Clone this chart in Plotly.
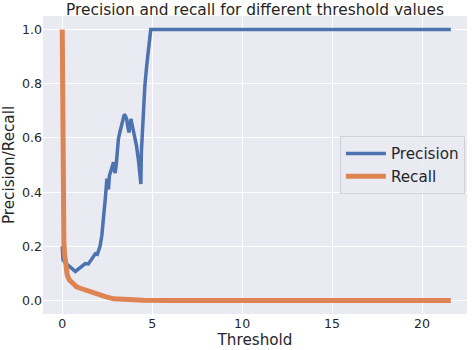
import plotly.graph_objects as go

# Precision curve (threshold, precision)
prec_t = [0.0, 0.02, 0.04, 0.15, 0.3, 0.5, 0.73, 0.9, 1.1, 1.28, 1.45, 1.56, 1.7, 1.84, 1.95, 2.1, 2.2, 2.3,
          2.4, 2.48, 2.52, 2.57, 2.62, 2.66, 2.75, 2.85, 2.9, 2.94, 3.0, 3.03, 3.08, 3.12, 3.2, 3.3, 3.36,
          3.45, 3.52, 3.58, 3.65, 3.71, 3.77, 3.82, 3.88, 3.95, 4.05, 4.13, 4.25, 4.37, 4.4, 4.5, 4.59,
          4.7, 4.81, 4.92, 5.0, 10.0, 15.0, 21.6]
prec_v = [0.20, 0.16, 0.15, 0.14, 0.13, 0.12, 0.107, 0.115, 0.125, 0.136, 0.135, 0.145, 0.16, 0.172, 0.17,
          0.20, 0.24, 0.30, 0.38, 0.45, 0.43, 0.41, 0.46, 0.47, 0.49, 0.51, 0.48, 0.47, 0.50, 0.53, 0.56,
          0.595, 0.62, 0.645, 0.66, 0.687, 0.68, 0.67, 0.64, 0.62, 0.65, 0.67, 0.65, 0.63, 0.60, 0.57,
          0.51, 0.43, 0.55, 0.68, 0.79, 0.87, 0.94, 1.0, 1.0, 1.0, 1.0, 1.0]

# Recall curve (threshold, recall)
rec_t = [0.0, 0.01, 0.02, 0.04, 0.06, 0.09, 0.13, 0.2, 0.28, 0.4, 0.5, 0.64, 0.8, 1.0, 1.28, 1.6,
         2.0, 2.4, 2.85, 3.5, 4.5, 6.0, 10.0, 21.6]
rec_v = [1.0, 0.85, 0.65, 0.45, 0.33, 0.22, 0.17, 0.125, 0.093, 0.075, 0.068, 0.056, 0.05, 0.045,
         0.038, 0.03, 0.02, 0.014, 0.006, 0.003, 0.001, 0.0, 0.0, 0.0]

series_names = ["Precision", "Recall"]
colors = ["#4C72B0", "#DD8452"]

fig = go.Figure()
fig.add_trace(go.Scatter(x=prec_t, y=prec_v, mode="lines", name=series_names[0],
                         line=dict(color=colors[0], width=3.5)))
fig.add_trace(go.Scatter(x=rec_t, y=rec_v, mode="lines", name=series_names[1],
                         line=dict(color=colors[1], width=5)))

font_family = "DejaVu Sans"
fig.update_layout(
    width=474, height=350,
    margin=dict(l=41, r=7, t=16, b=34),
    paper_bgcolor="white",
    plot_bgcolor="#EAEAF2",
    font=dict(family=font_family, color="#262626"),
    title=dict(text="Precision and recall for different threshold values",
               x=0.5, xref="paper", xanchor="center", y=1 - 10 / 350, yanchor="middle",
               font=dict(size=15.4, family=font_family, color="#262626")),
    xaxis=dict(range=[-1.07, 22.5], tickvals=[0, 5, 10, 15, 20], showgrid=True, gridcolor="white",
               gridwidth=1, zeroline=False, showline=False, ticks="",
               tickfont=dict(size=12.6, color="#262626"),
               title=dict(text="Threshold", font=dict(size=15.2, color="#262626"), standoff=2)),
    yaxis=dict(range=[-0.05, 1.05], tickvals=[0, 0.2, 0.4, 0.6, 0.8, 1.0],
               ticktext=["0.0", "0.2", "0.4", "0.6", "0.8", "1.0"], showgrid=True, gridcolor="white",
               gridwidth=1, zeroline=False, showline=False, ticks="",
               tickfont=dict(size=12.6, color="#262626"),
               title=dict(text="Precision/Recall", font=dict(size=15.2, color="#262626"), standoff=4)),
    legend=dict(x=0.995, y=0.5, xanchor="right", yanchor="middle",
                bgcolor="rgba(234,234,242,0.8)", bordercolor="#d0d0d8", borderwidth=1,
                font=dict(size=15.2, color="#262626"), tracegroupgap=0, itemwidth=40),
    showlegend=True,
)

fig.write_html("out.html")
